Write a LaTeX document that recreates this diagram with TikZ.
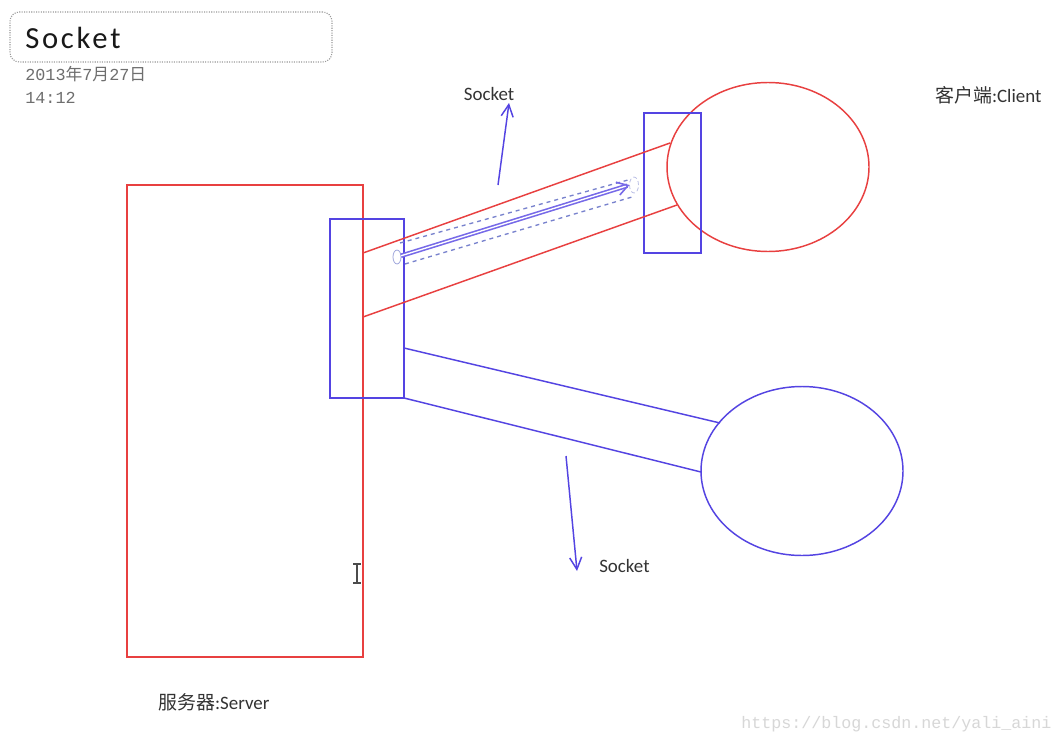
\documentclass[tikz,border=0pt]{standalone}
\usepackage{fontspec}
\setmainfont{Carlito}
\newfontfamily\cjk{Noto Sans CJK SC}
\newfontfamily\monof{Liberation Mono}
\newfontfamily\titlefont[LetterSpace=9]{Carlito}
\usetikzlibrary{arrows.meta,shapes.geometric}
\definecolor{myred}{RGB}{232,64,64}
\definecolor{myblue}{RGB}{84,68,226}
\definecolor{dashblue}{RGB}{120,130,205}
\definecolor{txtgray}{RGB}{110,110,110}
\definecolor{wmgray}{RGB}{215,215,215}
\tikzset{
  redline/.style={draw=myred,line width=1.1pt},
  blueline/.style={draw=myblue,line width=1.1pt},
  boxnode/.style={rectangle,inner sep=0pt,outer sep=0pt},
  ellnode/.style={ellipse,inner sep=0pt,outer sep=0pt},
  lbl/.style={font=\fontsize{14.2}{16}\selectfont,text=black!80,inner sep=0pt},
  sockarrow/.style={blueline,-{Straight Barb[length=9pt,width=9pt,line width=1.1pt]}},
}
\begin{document}
\begin{tikzpicture}[x=0.75pt,y=-0.75pt]
\useasboundingbox (0,0) rectangle (1062,742);
\fill[white] (0,0) rectangle (1062,742);
% title
\node[boxnode,draw=black!40,densely dotted,line width=0.8pt,rounded corners=7pt,minimum width=322*0.75pt,minimum height=50*0.75pt] (titlebox) at (171,37) {};
\node[anchor=west,inner sep=0pt,font=\fontsize{23}{25}\selectfont,text=black!90] (title) at (25,38) {\titlefont Socket};
\node[anchor=west,inner sep=0pt,text=txtgray,font=\fontsize{12.6}{14}\selectfont] (date) at (25,74) {\monof 2013{\cjk 年}7{\cjk 月}27{\cjk 日}};
\node[anchor=west,inner sep=0pt,text=txtgray,font=\fontsize{12.6}{14}\selectfont] (time) at (25,98) {\monof 14:12};
% server
\node[boxnode,redline,minimum width=236*0.75pt,minimum height=472*0.75pt] (server) at (245,421) {};
\node[boxnode,blueline,minimum width=74*0.75pt,minimum height=179*0.75pt] (ssock) at (367,308.5) {};
% client
\node[ellnode,redline,minimum width=202*0.75pt,minimum height=169*0.75pt] (client) at (768,167) {};
\node[boxnode,blueline,minimum width=57*0.75pt,minimum height=140*0.75pt] (csock) at (672.5,183) {};
% second client
\node[ellnode,blueline,minimum width=202*0.75pt,minimum height=169*0.75pt] (client2) at (802,471) {};
% pipe coordinates
\coordinate (p1a) at (363,253);
\coordinate (p1b) at (670,143);
\coordinate (p2a) at (363,317);
\coordinate (p2b) at (677,205);
\draw[redline] (p1a) -- (p1b);
\draw[redline] (p2a) -- (p2b);
\coordinate (q1a) at (404,348);
\coordinate (q1b) at (720,423);
\coordinate (q2a) at (404,398);
\coordinate (q2b) at (701,472);
\draw[blueline] (q1a) -- (q1b);
\draw[blueline] (q2a) -- (q2b);
% data stream
\node[ellnode,draw=dashblue!70,line width=0.6pt,minimum width=8*0.75pt,minimum height=14*0.75pt] (e1) at (397,257) {};
\node[ellnode,draw=dashblue!50,line width=0.6pt,densely dashed,minimum width=9*0.75pt,minimum height=16*0.75pt] (e2) at (634,185) {};
\draw[dashblue,dashed,line width=1pt] (400,243) -- (628,180);
\draw[dashblue,dashed,line width=1pt] (405,264) -- (632,197);
\draw[myblue!80,line width=1.2pt,double=white,double distance=1pt,-{Straight Barb[length=8pt,width=10pt]}] (e1) -- (e2.west);
% socket labels
\coordinate (a1s) at (498,185);
\node[lbl,anchor=base] (s1) at (489,100) {Socket};
\draw[sockarrow] (a1s) -- (509,103);
\coordinate (a2s) at (566,456);
\coordinate (a2e) at (577,571);
\draw[sockarrow] (a2s) -- (a2e);
\node[lbl,anchor=base west] (s2) at (599,572) {Socket};
% client / server labels
\node[lbl,anchor=base west] (clbl) at (935,102) {{\cjk 客户端}:Client};
\node[lbl,anchor=base west] (slbl) at (158,709) {{\cjk 服务器}:Server};
% cursor
\draw[black!70,line width=0.8pt] (357,564) -- (357,583) (353,564) -- (361,564) (353,583) -- (361,583);
% watermark
\node[anchor=base west,inner sep=0pt,text=wmgray,font=\fontsize{12.5}{14}\selectfont] (wm) at (741,728) {\monof https://blog.csdn.net/yali\_aini};
\end{tikzpicture}
\end{document}
